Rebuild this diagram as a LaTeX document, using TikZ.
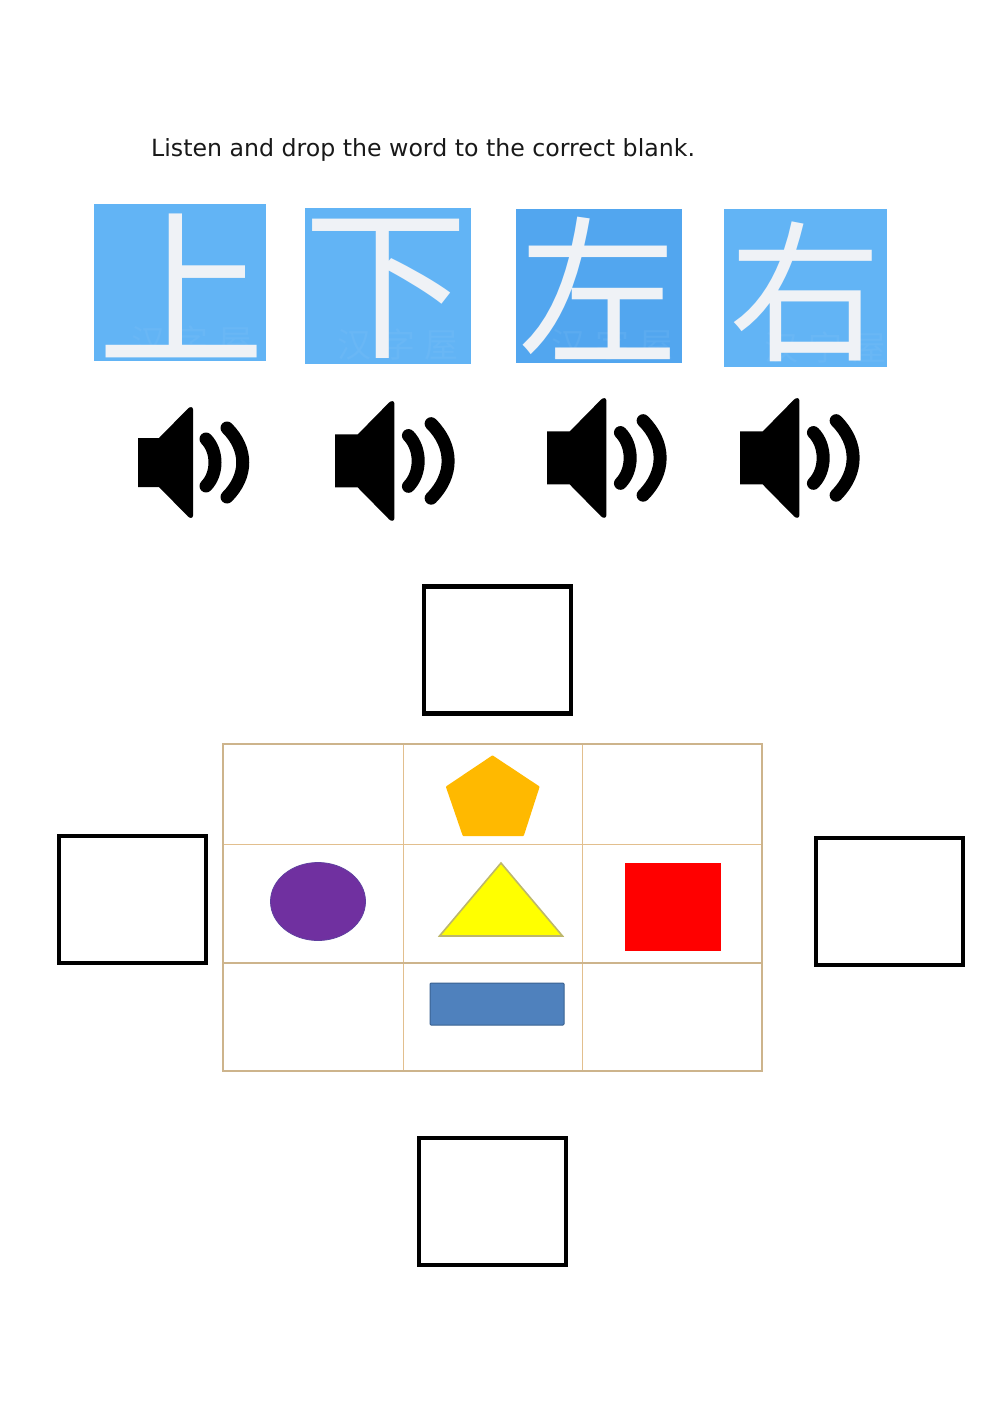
\documentclass[tikz,border=0pt]{standalone}
\usepackage{fontspec}
\setmainfont{DejaVu Sans}
\newfontfamily\cjk{Noto Sans CJK SC}
\definecolor{tilea}{HTML}{62B4F5}
\definecolor{tileb}{HTML}{52A6EF}
\definecolor{glyphc}{HTML}{EFF2F6}
\definecolor{marka}{HTML}{69B7F5}
\definecolor{markb}{HTML}{5BABF0}
\definecolor{gridin}{HTML}{E2BF8E}
\definecolor{gridout}{HTML}{CDB48C}
\definecolor{pentc}{HTML}{FFB900}
\definecolor{purp}{HTML}{7030A0}
\definecolor{purpedge}{HTML}{5F3F9F}
\definecolor{blueb}{HTML}{4F81BD}
\definecolor{blueedge}{HTML}{3A6291}
\definecolor{triyellow}{HTML}{FFFF00}
\definecolor{triedge}{HTML}{BDB76B}
\definecolor{purered}{HTML}{FF0000}
\newcommand{\wmtext}{汉\hspace{10pt}字\hspace{10pt}屋}
\tikzset{
  x=1pt,y=-1pt,
  glyph/.style={text=glyphc,inner sep=0pt,font=\cjk\fontsize{#1}{#1}\selectfont},
  wmark/.style={text=#1,inner sep=0pt,font=\cjk\fontsize{34}{34}\selectfont},
  blank/.style={draw=black,line width=4.6pt,fill=white,inner sep=0pt,minimum width=147pt,minimum height=127pt},
  speakericon/.pic={
    \fill[black] (0,31) -- (21,31) -- (50,1.5) .. controls (52,-0.5) and (55,-0.5) .. (55,2.5) -- (55,108.5) .. controls (55,111.5) and (52,111.5) .. (50,109.5) -- (21,80) -- (0,80) -- cycle;
    \draw[black,line width=13pt,line cap=round] (68,32) .. controls (80,44) and (80,67) .. (68,79);
    \draw[black,line width=13pt,line cap=round] (89,21) .. controls (110,42) and (110,69) .. (89,90);
  }
}
\begin{document}
\begin{tikzpicture}
\useasboundingbox (0,0) rectangle (1000,1413);
\fill[white] (0,0) rectangle (1000,1413);

\node[anchor=base west,inner sep=0pt,font=\fontsize{23.65}{24}\selectfont,text=black!90] (title) at (151,156) {Listen and drop the word to the correct blank.};

% character tiles
\fill[tilea] (94,204) rectangle (266,361);
\fill[tilea] (305,208) rectangle (471,364);
\fill[tileb] (516,209) rectangle (682,363);
\fill[tilea] (724,209) rectangle (887,367);
\node[wmark=marka] (w1) at (192,341) {\wmtext};
\node[wmark=marka] (w2) at (398,344) {\wmtext};
\node[wmark=markb] (w3) at (612,344) {\wmtext};
\node[wmark=marka] (w4) at (825,347) {\wmtext};
\node[glyph=168] (c1) at (181,286) {上};
\node[glyph=165] (c2) at (386,289) {下};
\node[glyph=160] (c3) at (598,288) {左};
\node[glyph=152] (c4) at (805,292) {右};

% speakers
\pic at (138,407) {speakericon};
\pic[scale=1.08] at (335,401) {speakericon};
\pic[scale=1.08] at (547,398) {speakericon};
\pic[scale=1.08] at (740,398) {speakericon};

% blanks
\node[blank] (top) at (497.5,650) {};
\node[blank] (left) at (132.5,899.5) {};
\node[blank] (right) at (889.5,901.5) {};
\node[blank] (bottom) at (492.5,1201.5) {};

% grid
\draw[gridin,line width=1pt] (403,744) -- (403,1071);
\draw[gridin,line width=1pt] (582,744) -- (582,1071);
\draw[gridin,line width=1pt] (223,844) -- (762,844);
\draw[gridout,line width=1.4pt] (223,963) -- (762,963);
\draw[gridout,line width=1.4pt] (223,744) rectangle (762,1071);

% shapes
\fill[pentc,draw=pentc,line width=2pt,line join=round] (492.5,756.5) -- (538.5,787) -- (523,835) -- (463.5,835) -- (447,787) -- cycle;
\fill[purp,draw=purpedge,line width=0.8pt] (318,901.5) ellipse [x radius=47.5,y radius=39];
\draw[fill=triyellow,draw=triedge,line width=1.6pt] (501,863) -- (562.5,936) -- (439.5,936) -- cycle;
\fill[purered] (625,863) rectangle (721,951);
\draw[fill=blueb,draw=blueedge,line width=1pt,rounded corners=1pt] (430,983) rectangle (564,1025);
\end{tikzpicture}
\end{document}
